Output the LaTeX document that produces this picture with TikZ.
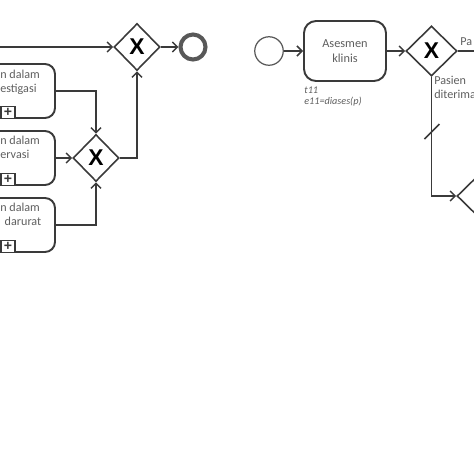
\documentclass[tikz,border=0pt]{standalone}
\usepackage{fontspec}
\setmainfont{Carlito}
\newfontfamily\gatefont{Liberation Sans}
\usetikzlibrary{shapes}
\usetikzlibrary{positioning}
\usetikzlibrary{arrows.meta}
\definecolor{linegray}{HTML}{3A3A3A}
\definecolor{textgray}{HTML}{5E5E5E}
\tikzset{
    mytask/.style = {rectangle, rounded corners=0.24cm, line width=1.1pt, draw=linegray, minimum width=1.64cm, minimum height=1.2cm, align=center, font=\fontsize{7}{8.5}\selectfont, text=textgray},
    mysub/.style = {rectangle, rounded corners=0.2cm, line width=1.1pt, draw=linegray, minimum width=1.88cm, minimum height=1.08cm},
    myplus/.style = {rectangle, line width=0.8pt, draw=linegray, fill=white, minimum width=0.28cm, minimum height=0.24cm, inner sep=0pt, font=\gatefont\bfseries\fontsize{8}{8}\selectfont, text=linegray},
    mygate/.style = {diamond, line width=0.9pt, draw=linegray, fill=white, inner sep=0pt, font=\gatefont\bfseries\fontsize{13}{13}\selectfont, text=black},
    mystart/.style = {circle, line width=0.7pt, draw=linegray!85, minimum size=0.57cm, inner sep=0pt},
    myend/.style = {circle, line width=2.3pt, draw=linegray!85, minimum size=0.5cm, inner sep=0pt},
    mytext/.style = {align=left, inner sep=0pt, font=\fontsize{6.9}{7.7}\selectfont, text=textgray},
    mynote/.style = {align=left, inner sep=0pt, font=\itshape\fontsize{5.8}{6.3}\selectfont, text=textgray},
    edgen/.style = {-{Straight Barb[length=1mm,width=2mm]}, line width=0.85pt, linegray},
    edgep/.style = {-, line width=0.85pt, linegray},
}

\begin{document}
\begin{tikzpicture}[x=0.02cm,y=-0.02cm]
\useasboundingbox (0,0) rectangle (474,474);
\clip (0,0) rectangle (474,474);
%
% left part
\coordinate (in) at (0,47);
\node[mygate] at (137,47) (xorA) [minimum width=0.92cm, minimum height=0.94cm] {X};
\node[myend] at (193,47) (stop) {};
\node[mysub] at (8,91) (inv) {};
\node[mysub] at (8,158) (obs) {};
\node[mysub] at (8,225) (dar) {};
\node[myplus, anchor=south] at (inv.south) (invp) {+};
\node[myplus, anchor=south] at (obs.south) (obsp) {+};
\node[myplus, anchor=south] at (dar.south) (darp) {+};
\node[mytext, anchor=north west] at (0,70) (invt) {n dalam\\estigasi};
\node[mytext, anchor=north west] at (0,136) (obst) {n dalam\\ervasi};
\node[mytext, anchor=north west] at (0,203) (dart) {n dalam\\\hspace*{2.5pt}darurat};
\node[mygate] at (96,158) (xorB) [minimum width=0.92cm, minimum height=0.94cm] {X};
%
\draw[edgen] (in) -- (xorA.west);
\draw[edgen] (xorA.east) -- (stop.west);
\draw[edgen] (inv.east) -| (xorB.north);
\draw[edgen] (obs.east) -- (xorB.west);
\draw[edgen] (dar.east) -| (xorB.south);
\draw[edgen] (xorB.east) -| (xorA.south);
%
% right part
\node[mystart] at (269,51) (start) {};
\node[mytask] at (345,51) (asm) {Asesmen\\klinis};
\node[mynote, anchor=north west] at (304,87) (asmn) {t11\\e11=diases(p)};
\node[mygate] at (431.5,51) (xorC) [minimum width=1.02cm, minimum height=1.0cm] {X};
\node[mygate] at (482.5,196) (xorD) [minimum width=1.02cm, minimum height=1.0cm] {};
\node[mytext, anchor=west] at (460,42) (pa) {Pa};
\node[mytext, anchor=north west] at (434,76) (ditr) {Pasien\\diterima};
\coordinate (out) at (474,51);
\coordinate (dflt) at (431.5,131);
%
\draw[edgen] (start.east) -- (asm.west);
\draw[edgen] (asm.east) -- (xorC.west);
\draw[edgep] (xorC.east) -- (out);
\draw[edgen] (xorC.south) |- (xorD.west);
\draw[edgep] ([shift={(-7,8)}]dflt) -- ([shift={(8,-7)}]dflt);
\end{tikzpicture}
\end{document}
